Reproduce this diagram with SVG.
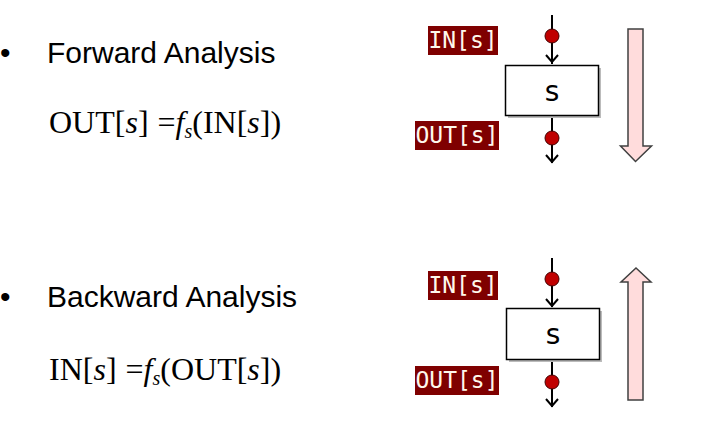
<svg xmlns="http://www.w3.org/2000/svg" width="703" height="431" viewBox="0 0 703 431">
<style>
.title{font-family:"Liberation Sans",Arial,sans-serif;font-size:30px;fill:#000}
.eq{font-family:"Liberation Serif","Times New Roman",serif;font-size:32px;fill:#000}
.it{font-style:italic}
.lblbg{fill:#7f0000}
.lbl{font-family:"DejaVu Sans Mono",monospace;font-size:23px;fill:#fff8ec;text-anchor:middle}
.box{fill:#fff;stroke:#000;stroke-width:1.5}
.shadow{fill:#bbb}
.stxt{font-family:"DejaVu Sans",Verdana,sans-serif;font-size:28px;fill:#000;text-anchor:middle}
.wire{stroke:#000;stroke-width:2;fill:none}
.chev{stroke:#000;stroke-width:2;fill:none;stroke-linejoin:miter}
.dot{fill:#c00000;stroke:#400;stroke-width:1}
.big{fill:#ffdcdc;stroke:#404040;stroke-width:1.5}
</style>

<g id="forward-text">
<text class="title" x="0" y="63">•</text>
<text class="title" x="47" y="63">Forward Analysis</text>
<text class="eq" x="49" y="133">OUT[<tspan class="it">s</tspan>]<tspan dx="9">=</tspan><tspan class="it">f</tspan><tspan class="it" font-size="20" dy="5">s</tspan><tspan dy="-5">(IN[</tspan><tspan class="it">s</tspan>])</text>
</g>

<g id="backward-text">
<text class="title" x="0" y="307">•</text>
<text class="title" x="47" y="307">Backward Analysis</text>
<text class="eq" x="49" y="380">IN[<tspan class="it">s</tspan>]<tspan dx="9">=</tspan><tspan class="it">f</tspan><tspan class="it" font-size="20" dy="5">s</tspan><tspan dy="-5">(OUT[</tspan><tspan class="it">s</tspan>])</text>
</g>

<g id="connectors">
<line class="wire" x1="552" y1="15" x2="552" y2="64"/>
<polyline class="chev" points="546,55 552,62 558,55"/>
<line class="wire" x1="552" y1="116" x2="552" y2="163"/>
<polyline class="chev" points="546,155 552,162 558,155"/>
<line class="wire" x1="552" y1="258" x2="552" y2="307"/>
<polyline class="chev" points="546,299 552,306 558,299"/>
<line class="wire" x1="552" y1="359" x2="552" y2="407"/>
<polyline class="chev" points="546,399 552,406 558,399"/>
</g>

<g id="fwd-in-label">
<rect class="lblbg" x="428" y="26" width="70" height="29"/>
<text class="lbl" x="463" y="48">IN[s]</text>
</g>
<g id="fwd-in-dot"><circle class="dot" cx="552" cy="36" r="7"/></g>
<g id="fwd-stmt">
<rect class="shadow" x="508" y="68" width="93" height="50"/>
<rect class="box" x="505.5" y="65.5" width="93" height="50"/>
<text class="stxt" x="552" y="101">s</text>
</g>
<g id="fwd-out-label">
<rect class="lblbg" x="415" y="121" width="84" height="29"/>
<text class="lbl" x="457" y="143">OUT[s]</text>
</g>
<g id="fwd-out-dot"><circle class="dot" cx="552" cy="138" r="7"/></g>
<g id="fwd-arrow">
<polygon class="big" points="628,29 643,29 643,146 651.5,146 635.5,161.5 620.5,146 628,146"/>
</g>

<g id="bwd-in-label">
<rect class="lblbg" x="428" y="271" width="70" height="29"/>
<text class="lbl" x="463" y="293">IN[s]</text>
</g>
<g id="bwd-in-dot"><circle class="dot" cx="552" cy="279" r="7"/></g>
<g id="bwd-stmt">
<rect class="shadow" x="509" y="311" width="93" height="51"/>
<rect class="box" x="506.5" y="308.5" width="93" height="51"/>
<text class="stxt" x="553" y="344">s</text>
</g>
<g id="bwd-out-label">
<rect class="lblbg" x="415" y="366" width="84" height="29"/>
<text class="lbl" x="457" y="388">OUT[s]</text>
</g>
<g id="bwd-out-dot"><circle class="dot" cx="552" cy="382" r="7"/></g>
<g id="bwd-arrow">
<polygon class="big" points="636,268 651,282 643,282 643,400 628,400 628,282 621,282"/>
</g>
</svg>
